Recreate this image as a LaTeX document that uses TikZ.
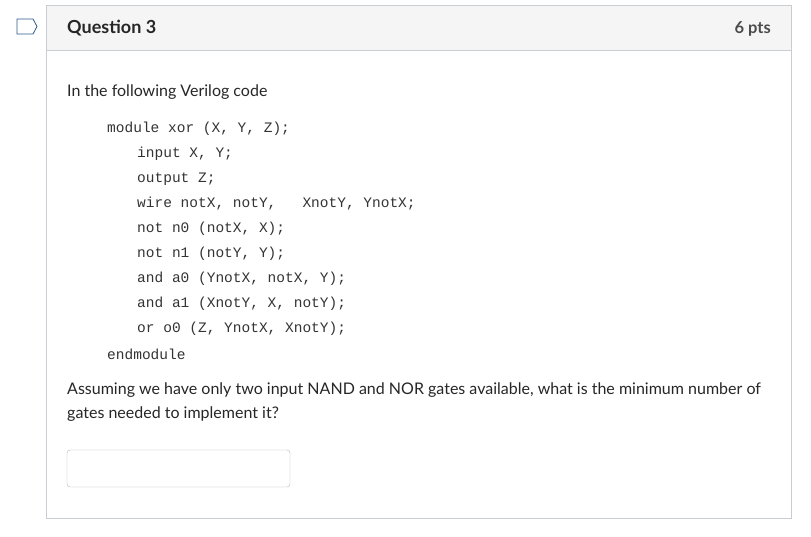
\documentclass[tikz,border=0pt]{standalone}
\usepackage{fontspec}
\setmainfont{Lato}
\setmonofont{Liberation Mono}
\definecolor{frame}{HTML}{C7CDD1}
\definecolor{headfill}{HTML}{F5F5F5}
\definecolor{tagblue}{HTML}{2D5B8A}
\tikzset{
  txt/.style={anchor=west, inner sep=0pt, font=\fontsize{16}{19}\selectfont, text=black!85},
  code/.style={anchor=west, inner sep=0pt, font=\fontsize{14.5}{18}\selectfont\ttfamily, text=black!80}
}
\begin{document}
\begin{tikzpicture}[x=1pt, y=-1pt]
	\useasboundingbox (0,0) rectangle (811,537);
	\filldraw [fill=headfill, draw=frame] (46,5) rectangle (791,50);
	\draw [frame] (46,50) rectangle (791,518);
	\draw [tagblue, line width=0.8pt] (17,19) -- (33,19) -- (37,26.5) -- (33,34) -- (17,34) -- cycle;
	\node [txt, font=\fontsize{18}{21}\selectfont\bfseries] (title) at (67,28) {Question 3};
	\node [txt, anchor=east, font=\fontsize{16.5}{19}\selectfont\bfseries, text=black!70] (pts) at (771,29) {6 pts};
	
	\node [txt] (intro) at (67,92) {In the following Verilog code};
	\node [code] (l0) at (107,129) {module xor (X, Y, Z);};
	\node [code] (l1) at (137,154) {input X, Y;};
	\node [code] (l2) at (137,179) {output Z;};
	\node [code] (l3) at (137,204) {wire notX, notY,\ \ \ XnotY, YnotX;};
	\node [code] (l4) at (137,229) {not n0 (notX, X);};
	\node [code] (l5) at (137,254) {not n1 (notY, Y);};
	\node [code] (l6) at (137,279) {and a0 (YnotX, notX, Y);};
	\node [code] (l7) at (137,304) {and a1 (XnotY, X, notY);};
	\node [code] (l8) at (137,329) {or o0 (Z, YnotX, XnotY);};
	\node [code] (l9) at (107,354) {endmodule};
	
	\node [txt] (ask1) at (67,390) {Assuming we have only two input NAND and NOR gates available, what is the minimum number of};
	\node [txt] (ask2) at (67,414) {gates needed to implement it?};
	\draw [black!30, rounded corners=3pt] (67,450) rectangle (290,487);
\end{tikzpicture}
\end{document}
